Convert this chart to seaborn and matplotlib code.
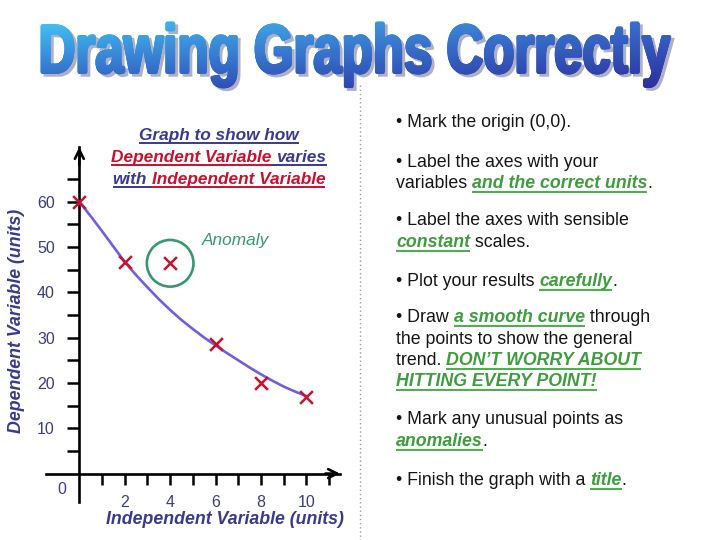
import numpy as np
import matplotlib
matplotlib.use("Agg")
import matplotlib.pyplot as plt
import seaborn as sns
from matplotlib.textpath import TextPath
from matplotlib.font_manager import FontProperties
from matplotlib.patches import PathPatch
from matplotlib.transforms import Affine2D
from matplotlib.ticker import FixedLocator

# ---------------- data ----------------
x_points = [0, 2, 4, 6, 8, 10]
y_points = [60, 46.7, 46.4, 28.6, 19.9, 16.9]
anomaly_x = [4]
anomaly_y = [46.4]
curve_x = [0, 0.5, 1, 1.5, 2, 2.5, 3, 3.5, 4, 4.5, 5, 5.5, 6, 6.5, 7, 7.5, 8, 8.5, 9, 9.5, 10]
curve_y = [60, 56.8, 53.5, 50.1, 46.7, 43.8, 41.1, 38.5, 36.1, 33.9, 31.9, 30.0, 28.3,
           26.6, 25.0, 23.4, 21.9, 20.5, 19.2, 18.1, 17.1]
y_tick_labels = [10, 20, 30, 40, 50, 60]
y_minor_ticks = [5, 15, 25, 35, 45, 55, 65]
x_tick_labels = [2, 4, 6, 8, 10]
x_minor_ticks = [1, 3, 5, 7, 9, 11]

title_text = "Drawing Graphs Correctly"
graph_title = [
    [("Graph to show how", "blue")],
    [("Dependent Variable", "red"), (" ", "blue"), ("varies", "blue")],
    [("with", "blue"), (" ", "blue"), ("Independent Variable", "red")],
]
bullets = [
    [[("\u2022 Mark the origin (0,0).", "n")]],
    [[("\u2022 Label the axes with your", "n")],
     [("variables ", "n"), ("and the correct units", "g"), (".", "n")]],
    [[("\u2022 Label the axes with sensible", "n")],
     [("constant", "g"), (" scales.", "n")]],
    [[("\u2022 Plot your results ", "n"), ("carefully", "g"), (".", "n")]],
    [[("\u2022 Draw ", "n"), ("a smooth curve", "g"), (" through", "n")],
     [("the points to show the general", "n")],
     [("trend. ", "n"), ("DON\u2019T WORRY ABOUT", "g")],
     [("HITTING EVERY POINT!", "g")]],
    [[("\u2022 Mark any unusual points as", "n")],
     [("anomalies", "g"), (".", "n")]],
    [[("\u2022 Finish the graph with a ", "n"), ("title", "g"), (".", "n")]],
]
bullet_baselines = [[127], [167, 188], [225, 247], [286], [322, 344, 365, 386], [424, 446], [485]]

# ---------------- style ----------------
sns.set_theme(style="white")
plt.rcParams["font.family"] = ["Liberation Sans", "DejaVu Sans"]

NAVY = "#3a3a8e"
TICKC = "#3c3c7e"
RED = "#c8102e"
GREEN = "#3f9c3f"
ANOM = "#3a9670"
CURVE = "#6f5fe0"

W, H = 720, 540
fig = plt.figure(figsize=(7.2, 5.4), dpi=100)
fig.patch.set_facecolor("white")

# ---------------- main axes ----------------
ax = fig.add_axes([46 / W, 1 - 502 / H, (340 - 46) / W, (502 - 147) / H])
ax.set_xlim(-1.467, 11.48)
ax.set_ylim(-6.27, 72.06)
ax.patch.set_visible(False)
for s in ["top", "right"]:
    ax.spines[s].set_visible(False)
ax.spines["left"].set_position(("data", 0))
ax.spines["bottom"].set_position(("data", 0))
for s in ["left", "bottom"]:
    ax.spines[s].set_linewidth(1.9)
    ax.spines[s].set_color("black")

ax.yaxis.set_major_locator(FixedLocator(y_tick_labels))
ax.yaxis.set_minor_locator(FixedLocator(y_minor_ticks))
ax.xaxis.set_major_locator(FixedLocator(x_tick_labels))
ax.xaxis.set_minor_locator(FixedLocator(x_minor_ticks))
ax.set_yticklabels([str(v) for v in y_tick_labels])
ax.set_xticklabels([str(v) for v in x_tick_labels])
ax.tick_params(axis="y", which="both", direction="out", length=8.6, width=1.8,
               color="black", left=True, right=False)
ax.tick_params(axis="y", which="major", pad=9, labelsize=11.5, labelcolor=TICKC)
ax.tick_params(axis="x", which="both", direction="out", length=8, width=1.8,
               color="black", bottom=True, top=False)
ax.tick_params(axis="x", which="major", pad=7.2, labelsize=11.5, labelcolor=TICKC)
ax.grid(False)

# arrowheads
ax.annotate("", xy=(1.0, 0), xycoords=("axes fraction", "data"),
            xytext=(0.95, 0), textcoords=("axes fraction", "data"),
            arrowprops=dict(arrowstyle="->", lw=1.9, color="black", mutation_scale=16,
                            shrinkA=0, shrinkB=0))
ax.annotate("", xy=(0, 1.0), xycoords=("data", "axes fraction"),
            xytext=(0, 0.95), textcoords=("data", "axes fraction"),
            arrowprops=dict(arrowstyle="->", lw=1.9, color="black", mutation_scale=16,
                            shrinkA=0, shrinkB=0))

# curve, points, anomaly circle
sns.lineplot(x=curve_x, y=curve_y, ax=ax, color=CURVE, linewidth=1.9, zorder=3)
sns.scatterplot(x=x_points, y=y_points, ax=ax, marker="x", s=85, color=RED,
                linewidth=1.8, zorder=6, clip_on=False)
ax.scatter(anomaly_x, anomaly_y, s=33.6 ** 2, facecolors="none", edgecolors=ANOM,
           linewidths=1.9, zorder=5)
ax.set_xlabel("")
ax.set_ylabel("")

# ---------------- overlay in pixel coordinates ----------------
ov = fig.add_axes([0, 0, 1, 1])
ov.set_xlim(0, W)
ov.set_ylim(H, 0)
ov.axis("off")
ov.patch.set_visible(False)

# Title with gradient fill and shadow
fp = FontProperties(family=["Liberation Sans Narrow", "Liberation Sans"], weight="bold")
tp = TextPath((0, 0), title_text, size=100, prop=fp)
ext = tp.get_extents()
X0, X1, TOP, BOT = 42, 670, 23, 87
sx = (X1 - X0) / ext.width
sy = (BOT - TOP) / ext.height
tr = Affine2D().translate(-ext.x0, -ext.y0).scale(sx, -sy).translate(X0, BOT)
tpath = tr.transform_path(tp)
shadow_path = Affine2D().translate(3.0, 2.8).transform_path(tpath)
ov.add_patch(PathPatch(shadow_path, facecolor="#aeb1c6", edgecolor="#aeb1c6",
                       lw=2.0, zorder=2))
nx, ny = 300, 100
u = np.linspace(0, 1, nx)[None, :, None]
v = np.linspace(0, 1, ny)[:, None, None]
TL = np.array([0x42, 0xc6, 0xf6]) / 255
TR = np.array([0x38, 0x6c, 0xcc]) / 255
BL = np.array([0x30, 0x5a, 0xc2]) / 255
BR = np.array([0x2c, 0x2c, 0x9c]) / 255
grad = (1 - u) * (1 - v) * TL + u * (1 - v) * TR + (1 - u) * v * BL + u * v * BR
r = 1.4
offsets = [(0, 0)] + [(r * np.cos(a), r * np.sin(a)) for a in np.linspace(0, 2 * np.pi, 12, endpoint=False)]
for dx, dy in offsets:
    p = Affine2D().translate(dx, dy).transform_path(tpath)
    clip = PathPatch(p, facecolor="none", edgecolor="none", zorder=3)
    ov.add_patch(clip)
    im = ov.imshow(grad, extent=[X0 - 3, X1 + 3, BOT + 3, TOP - 3], aspect="auto",
                   zorder=4, interpolation="bilinear")
    im.set_clip_path(clip)
ov.set_xlim(0, W)
ov.set_ylim(H, 0)

# divider
ov.plot([360, 360], [85, 540], color="#9a9a9a", lw=1.0, linestyle=(0, (1, 2)))

renderer = fig.canvas.get_renderer()


def seg_width(txt, **kw):
    t1 = ov.text(0, 0, "|" + txt + "|", **kw)
    w1 = t1.get_window_extent(renderer).width
    t1.remove()
    t2 = ov.text(0, 0, "||", **kw)
    w2 = t2.get_window_extent(renderer).width
    t2.remove()
    return w1 - w2


def draw_line(segments, x, baseline, styles, center=False, ul_off=3.5, ul_lw=1.4):
    widths = [seg_width(t, **styles[k]["font"]) for t, k in segments]
    if center:
        x = x - sum(widths) / 2
    for (t, k), w in zip(segments, widths):
        st = styles[k]
        if t.strip():
            ov.text(x, baseline, t, ha="left", va="baseline", color=st["color"], **st["font"])
        if st.get("ul"):
            ov.plot([x, x + w], [baseline + ul_off, baseline + ul_off], color=st["ulc"],
                    lw=ul_lw, solid_capstyle="butt")
        x += w


right_styles = {
    "n": dict(color="#141414", font=dict(fontsize=12.8)),
    "g": dict(color=GREEN, font=dict(fontsize=12.8, fontweight="bold", fontstyle="italic"),
              ul=True, ulc="#4fae4f"),
}
for para, bls in zip(bullets, bullet_baselines):
    for line, bl in zip(para, bls):
        draw_line(line, 396, bl, right_styles, ul_off=3.6, ul_lw=1.5)

title_styles = {
    "blue": dict(color=NAVY, font=dict(fontsize=12.4, fontweight="bold", fontstyle="italic"),
                 ul=True, ulc=NAVY),
    "red": dict(color=RED, font=dict(fontsize=12.4, fontweight="bold", fontstyle="italic"),
                ul=True, ulc=RED),
}
for line, bl in zip(graph_title, [140, 162, 184]):
    draw_line(line, 219, bl, title_styles, center=True, ul_off=3.2, ul_lw=1.4)

# axis labels, origin, anomaly label
ov.text(225, 519, "Independent Variable (units)", ha="center", va="center",
        fontsize=12.8, fontweight="bold", fontstyle="italic", color=NAVY)
ov.text(17, 321, "Dependent Variable (units)", ha="center", va="center", rotation=90,
        fontsize=12.8, fontweight="bold", fontstyle="italic", color=NAVY)
ov.text(62, 489, "0", ha="center", va="center", fontsize=11.5, color=TICKC)
ov.text(235, 240, "Anomaly", ha="center", va="center", fontsize=12.4,
        fontstyle="italic", color=ANOM)

fig.savefig("out.png", dpi=100)
